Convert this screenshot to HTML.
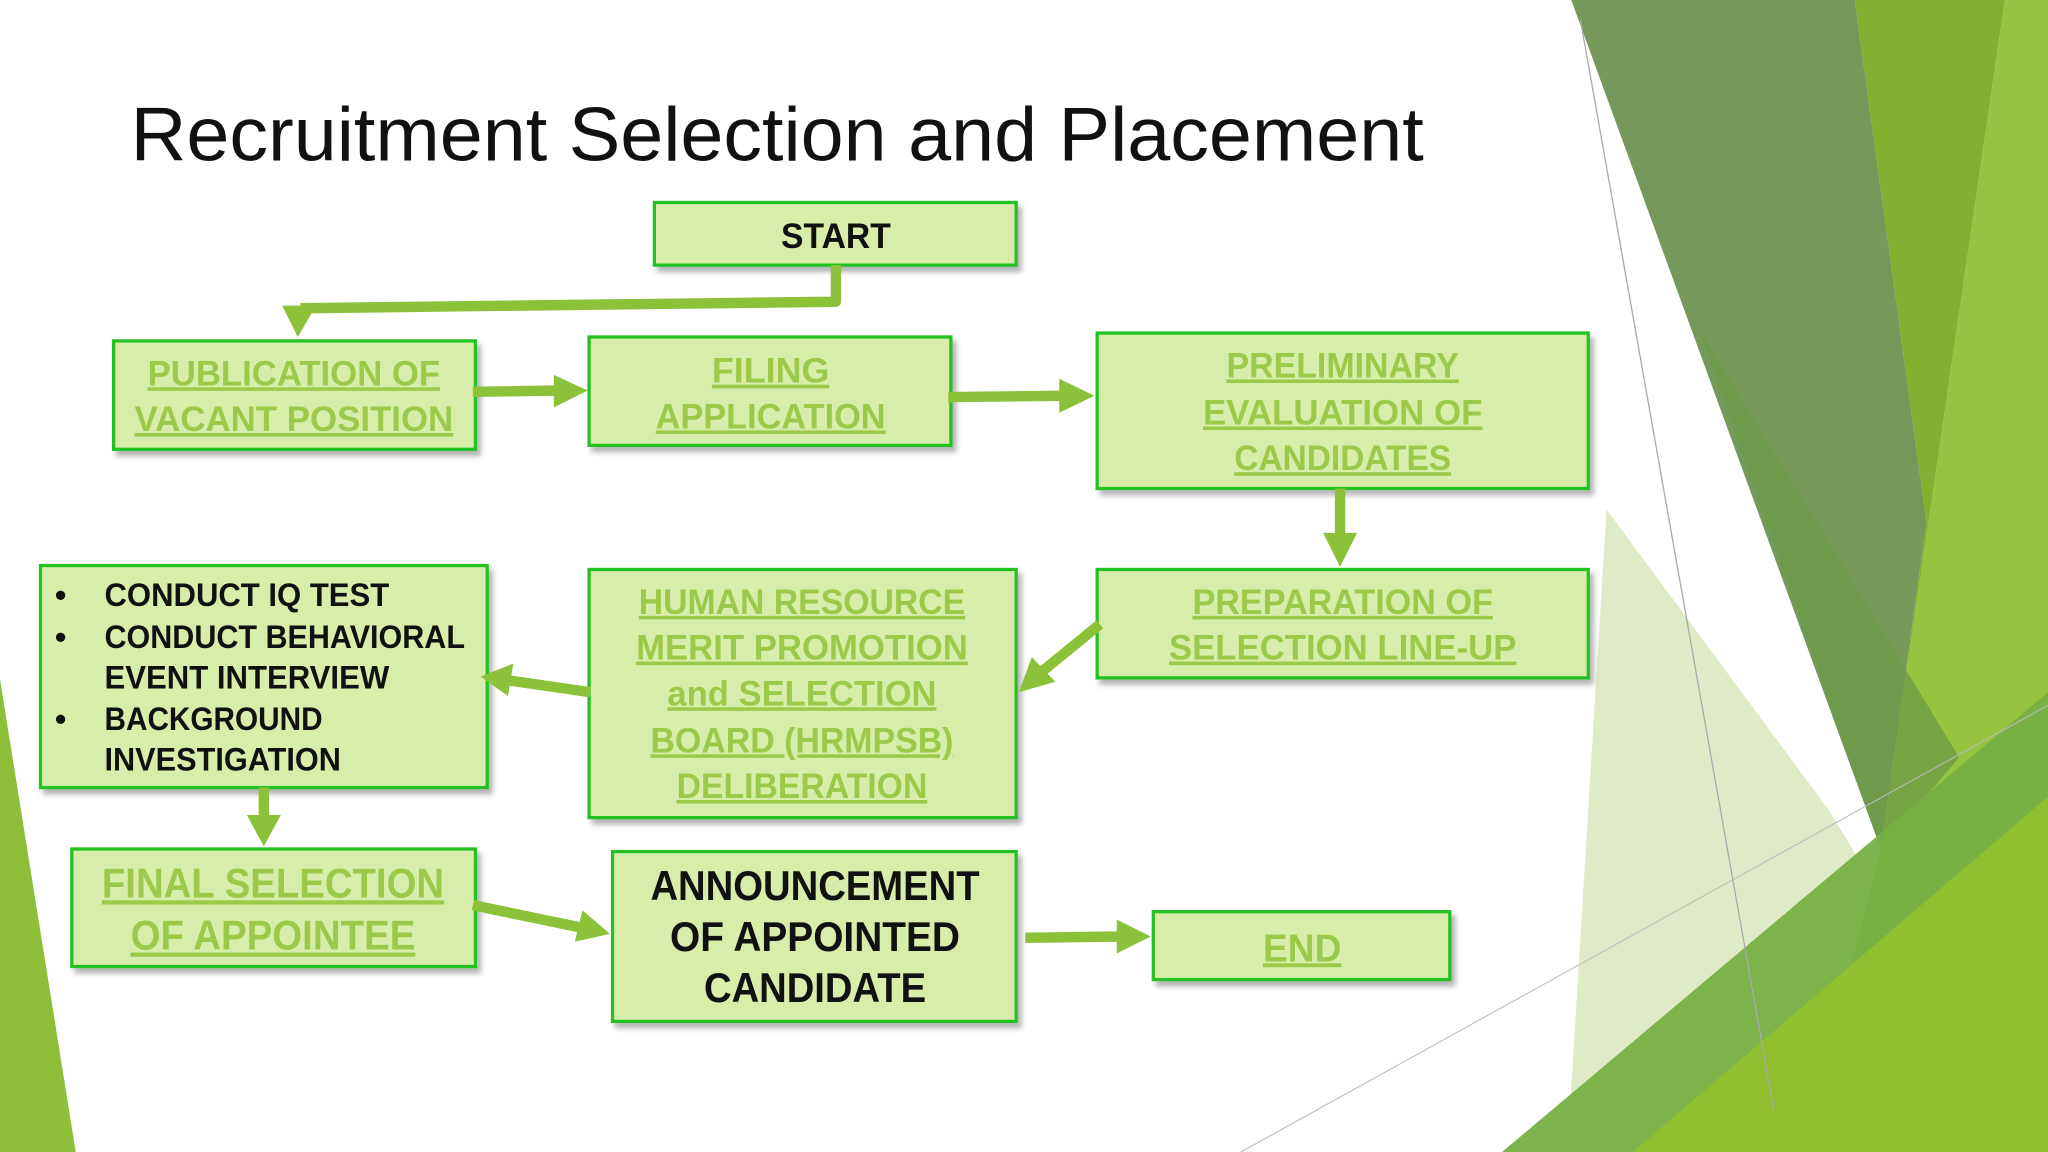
<!DOCTYPE html>
<html><head><meta charset="utf-8"><style>
html,body{margin:0;padding:0;background:#fff}
svg{display:block}
text{font-family:"Liberation Sans",sans-serif;font-weight:bold}
.l{fill:#9cc94a;text-decoration:underline}
.k{fill:#111}
</style></head><body>
<svg width="2048" height="1152" viewBox="0 0 1568 882" xmlns="http://www.w3.org/2000/svg">
<defs><filter id="sh" x="-5%" y="-5%" width="115%" height="120%"><feDropShadow dx="3" dy="4" stdDeviation="2" flood-color="#000" flood-opacity="0.3"/></filter></defs>
<rect width="1568" height="882" fill="#fff"/>
<!-- decorative shapes -->
<polygon points="0,520 58,882 0,882" fill="#8dbf3a"/>
<polygon points="1230,390 1400,620 1560,882 1200,882" fill="#c9dea0" opacity="0.6"/>
<polygon points="1203,0 1420,0 1475,400 1440,650" fill="#75995a"/>
<polygon points="1420,0 1535,0 1440,650 1475,400" fill="#80b131"/>
<polygon points="1535,0 1568,0 1568,882 1380,882 1440,650" fill="#95c440"/>
<polygon points="1300,250 1500,580 1440,650" fill="#6a9a45" opacity="0.7"/>
<polygon points="1150,882 1568,530 1568,882" fill="#76b043" opacity="0.95"/>
<polygon points="1250,882 1568,610 1568,882" fill="#8fc02f"/>
<line x1="1210" y1="15" x2="1358" y2="850" stroke="#aaa" stroke-width="1"/>
<line x1="950" y1="882" x2="1568" y2="540" stroke="#bbb" stroke-width="0.8"/>
<!-- title -->
<text x="100" y="123" font-size="58" style="font-weight:normal" fill="#111" textLength="990" lengthAdjust="spacingAndGlyphs">Recruitment Selection and Placement</text>
<!-- boxes -->
<g fill="#d8edaa" stroke="#22c222" stroke-width="2.5" filter="url(#sh)">
<rect x="501" y="155" width="277" height="48"/>
<rect x="87" y="261" width="277" height="83"/>
<rect x="451" y="258" width="277" height="83"/>
<rect x="840" y="255" width="376" height="119"/>
<rect x="840" y="436" width="376" height="83"/>
<rect x="451" y="436" width="327" height="190"/>
<rect x="31" y="433" width="342" height="170"/>
<rect x="55" y="650" width="309" height="90"/>
<rect x="469" y="652" width="309" height="130"/>
<rect x="883" y="698" width="227" height="52"/>
</g>
<!-- arrows -->
<g stroke="#8cc23a" stroke-width="8" fill="none" stroke-linejoin="round">
<polyline points="640,203 640,231 230,236"/>
<line x1="362" y1="300" x2="428" y2="299"/>
<line x1="726" y1="304" x2="815" y2="303"/>
<line x1="1026" y1="374" x2="1026" y2="412"/>
<line x1="842" y1="478" x2="798" y2="514"/>
<line x1="452" y1="530" x2="390" y2="521"/>
<line x1="202" y1="603" x2="202" y2="626"/>
<line x1="362" y1="693" x2="444" y2="710"/>
<line x1="785" y1="718" x2="858" y2="717"/>
</g>
<g fill="#8cc23a">
<polygon points="216,234 242,234 228,258"/>
<polygon points="424,287 450,299 424,312"/>
<polygon points="811,290 838,303 811,316"/>
<polygon points="1013,408 1039,408 1026,434"/>
<polygon points="790,503 808,522 780,530"/>
<polygon points="393,508 368,518 389,533"/>
<polygon points="189,624 215,624 202,648"/>
<polygon points="446,697 467,715 440,721"/>
<polygon points="855,704 881,717 855,730"/>
</g>
<!-- texts -->
<g text-anchor="middle" font-size="27">
<text class="k" x="640" y="190" textLength="84" lengthAdjust="spacingAndGlyphs">START</text>
<text class="l" x="225" y="295" textLength="224" lengthAdjust="spacingAndGlyphs">PUBLICATION OF</text>
<text class="l" x="225" y="330" textLength="244" lengthAdjust="spacingAndGlyphs">VACANT POSITION</text>
<text class="l" x="590" y="293" textLength="90" lengthAdjust="spacingAndGlyphs">FILING</text>
<text class="l" x="590" y="328" textLength="176" lengthAdjust="spacingAndGlyphs">APPLICATION</text>
<text class="l" x="1028" y="289" textLength="178" lengthAdjust="spacingAndGlyphs">PRELIMINARY</text>
<text class="l" x="1028" y="325" textLength="214" lengthAdjust="spacingAndGlyphs">EVALUATION OF</text>
<text class="l" x="1028" y="360" textLength="166" lengthAdjust="spacingAndGlyphs">CANDIDATES</text>
<text class="l" x="1028" y="470" textLength="230" lengthAdjust="spacingAndGlyphs">PREPARATION OF</text>
<text class="l" x="1028" y="505" textLength="266" lengthAdjust="spacingAndGlyphs">SELECTION LINE-UP</text>
<text class="l" x="614" y="470" textLength="250" lengthAdjust="spacingAndGlyphs">HUMAN RESOURCE</text>
<text class="l" x="614" y="505" textLength="254" lengthAdjust="spacingAndGlyphs">MERIT PROMOTION</text>
<text class="l" x="614" y="540" textLength="206" lengthAdjust="spacingAndGlyphs">and SELECTION</text>
<text class="l" x="614" y="576" textLength="232" lengthAdjust="spacingAndGlyphs">BOARD (HRMPSB)</text>
<text class="l" x="614" y="611" textLength="192" lengthAdjust="spacingAndGlyphs">DELIBERATION</text>
<text class="l" x="209" y="687" font-size="32" textLength="262" lengthAdjust="spacingAndGlyphs">FINAL SELECTION</text>
<text class="l" x="209" y="727" font-size="32" textLength="218" lengthAdjust="spacingAndGlyphs">OF APPOINTEE</text>
<text class="k" x="624" y="689" font-size="32" textLength="252" lengthAdjust="spacingAndGlyphs">ANNOUNCEMENT</text>
<text class="k" x="624" y="728" font-size="32" textLength="222" lengthAdjust="spacingAndGlyphs">OF APPOINTED</text>
<text class="k" x="624" y="767" font-size="32" textLength="170" lengthAdjust="spacingAndGlyphs">CANDIDATE</text>
<text class="l" x="997" y="736" font-size="30" textLength="60" lengthAdjust="spacingAndGlyphs">END</text>
</g>
<g font-size="25" class="k">
<text x="42" y="464">•</text><text x="80" y="464" textLength="218" lengthAdjust="spacingAndGlyphs">CONDUCT IQ TEST</text>
<text x="42" y="496">•</text><text x="80" y="496" textLength="276" lengthAdjust="spacingAndGlyphs">CONDUCT BEHAVIORAL</text>
<text x="80" y="527" textLength="218" lengthAdjust="spacingAndGlyphs">EVENT INTERVIEW</text>
<text x="42" y="559">•</text><text x="80" y="559" textLength="167" lengthAdjust="spacingAndGlyphs">BACKGROUND</text>
<text x="80" y="590" textLength="181" lengthAdjust="spacingAndGlyphs">INVESTIGATION</text>
</g>
</svg>
</body></html>
